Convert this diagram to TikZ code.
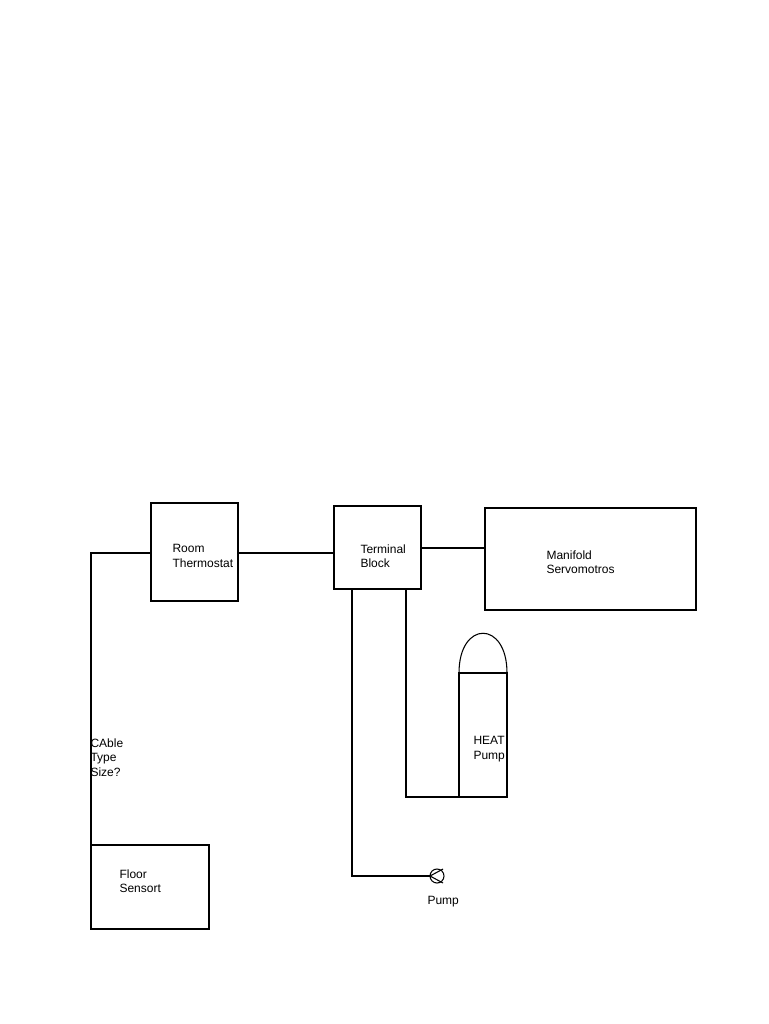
\documentclass[tikz,border=0pt]{standalone}
\usepackage{fontspec}
\setmainfont{Liberation Sans}
\begin{document}
\begin{tikzpicture}[x=0.75pt,y=-0.75pt,line width=0.8pt,
  box/.style={draw,inner sep=0pt},
  lbl/.style={anchor=north west,align=left,font=\fontsize{9}{11}\selectfont,inner sep=0pt}]
\useasboundingbox (0,0) rectangle (768,1024);
\draw (151,503) rectangle (238,601);
\node[lbl] (rt) at (172,544) {Room\\Thermostat};
\draw (334,506) rectangle (421,589);
\node[lbl] (tb) at (360,544) {Terminal\\Block};
\draw (485,508) rectangle (696,610);
\node[lbl] (ms) at (546,550) {Manifold\\Servomotros};
\draw (91,845) rectangle (209,929);
\node[lbl] (fs) at (119,869) {Floor\\Sensort};
\node[lbl] (cab) at (90,738) {CAble\\Type\\Size?};
\draw (151,553) -- (91,553) -- (91,845);
\draw (238,553) -- (334,553);
\draw (421,548) -- (485,548);
\draw (352,589) -- (352,876) -- (430,876);
\draw (406,589) -- (406,797) -- (459,797);
\draw (459,673) rectangle (507,797);
\draw (459,673) .. controls (459,620) and (507,620) .. (507,673);
\node[lbl] (hp) at (473,736) {HEAT\\Pump};
\draw (437,876) circle (7);
\draw (443,869) -- (430,876) -- (443,883);
\node[lbl] (pl) at (427,896) {Pump};
\end{tikzpicture}
\end{document}
